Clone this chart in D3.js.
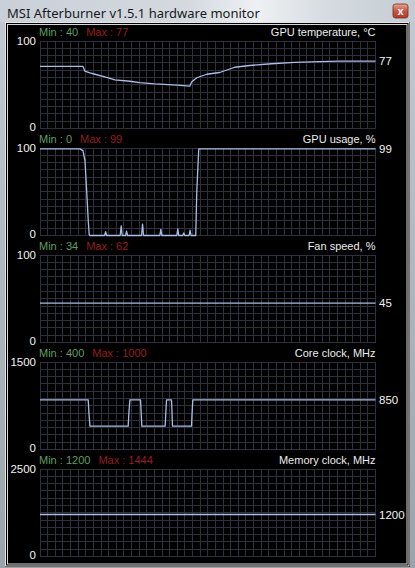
<!DOCTYPE html>
<html>
<head>
<meta charset="utf-8">
<script src="https://cdn.jsdelivr.net/npm/d3@7"></script>
<style>
  html, body { margin: 0; padding: 0; background: #bfc7cf; }
  svg { display: block; }
</style>
</head>
<body>
<div id="chart"></div>
<script>
/* MSI Afterburner hardware monitor - five stacked history graphs */

var windowTitle = 'MSI Afterburner v1.5.1 hardware monitor';
var panelNames = ['GPU temperature, \u00B0C', 'GPU usage, %', 'Fan speed, %', 'Core clock, MHz', 'Memory clock, MHz'];
var axisMax = [100, 100, 100, 1500, 2500];
var minValues = [40, 0, 34, 400, 1200];
var maxValues = [77, 99, 62, 1000, 1444];
var currentValues = [77, 99, 45, 850, 1200];

/* [sample, value] - one sample per pixel column of the graph */
var tempSeries = [
  [0, 71], [43, 71], [45, 65.5], [50, 63.5], [55, 62], [65, 59], [75, 55.5], [90, 54],
  [100, 52.5], [115, 51], [137, 49.5], [150, 48.5], [152, 53.5], [157, 58], [167, 62],
  [180, 64], [195, 70], [210, 72], [232, 74], [255, 75.5], [280, 76.5], [300, 77], [336, 77]
];
var usageSeries = [
  [0, 99], [40, 99], [43, 97], [45, 86], [46.7, 52], [48.3, 17], [49.3, 1], [50, 0],
  [64.7, 0], [65.7, 4.5], [66.7, 0],
  [80.3, 0], [81.3, 11], [82.3, 0],
  [85.7, 0], [86.7, 5], [87.7, 0],
  [101.7, 0], [102.7, 13], [103.7, 0],
  [120, 0], [121, 7], [122, 0],
  [137, 0], [138, 7.5], [139, 0],
  [143, 0], [144, 3], [145, 0],
  [149.3, 0], [150.3, 6], [151.3, 0],
  [156, 0], [157, 50], [159, 99], [336, 99]
];
var fanSeries = [[0, 45], [336, 45]];
var coreSeries = [
  [0, 850], [48.3, 850], [49, 630], [50, 400], [88.3, 400], [89, 620], [90, 850],
  [100.7, 850], [101.3, 630], [102, 400], [125.3, 400], [126, 620], [126.7, 850],
  [131.7, 850], [132.2, 630], [132.7, 400], [151.7, 400], [152.3, 620], [153, 850], [336, 850]
];
var memSeries = [[0, 1200], [336, 1200]];

(function () {
  'use strict';

  var W = 415, H = 568;
  var plotLeft = 40, plotRight = 375.5;
  var firstTop = 41, pitch = 107, plotH = 87.5;
  var series = [tempSeries, usageSeries, fanSeries, coreSeries, memSeries];
  var labelFont = '"Liberation Sans", Arial, sans-serif';

  var svg = d3.select('#chart').append('svg')
    .attr('width', W).attr('height', H);

  var defs = svg.append('defs');
  var frameGrad = defs.append('linearGradient').attr('id', 'frameGrad')
    .attr('x1', 0).attr('x2', 1).attr('y1', 0).attr('y2', 0);
  frameGrad.append('stop').attr('offset', '0%').attr('stop-color', '#c9d0d7');
  frameGrad.append('stop').attr('offset', '45%').attr('stop-color', '#d3d9df');
  frameGrad.append('stop').attr('offset', '62%').attr('stop-color', '#eef1f3');
  frameGrad.append('stop').attr('offset', '78%').attr('stop-color', '#d6dce1');
  frameGrad.append('stop').attr('offset', '100%').attr('stop-color', '#c4ccd3');

  var sideGrad = defs.append('linearGradient').attr('id', 'sideGrad')
    .attr('x1', 0).attr('x2', 0).attr('y1', 0).attr('y2', 1);
  sideGrad.append('stop').attr('offset', '0%').attr('stop-color', '#c3cad1');
  sideGrad.append('stop').attr('offset', '100%').attr('stop-color', '#9aa2aa');

  var closeGrad = defs.append('linearGradient').attr('id', 'closeGrad')
    .attr('x1', 0).attr('x2', 0).attr('y1', 0).attr('y2', 1);
  closeGrad.append('stop').attr('offset', '0%').attr('stop-color', '#e7a595');
  closeGrad.append('stop').attr('offset', '50%').attr('stop-color', '#c9543f');
  closeGrad.append('stop').attr('offset', '100%').attr('stop-color', '#b13a26');

  /* window frame */
  svg.append('rect').attr('width', W).attr('height', H).attr('fill', 'url(#sideGrad)');
  svg.append('rect').attr('width', W).attr('height', 22).attr('fill', 'url(#frameGrad)');

  svg.append('text')
    .attr('x', 7).attr('y', 18)
    .attr('font-family', '"Noto Sans", "Open Sans", sans-serif')
    .attr('font-size', 13)
    .attr('fill', '#1a1a1a')
    .text(windowTitle);

  var close = svg.append('g').attr('transform', 'translate(393,4)');
  close.append('rect').attr('width', 15).attr('height', 14).attr('rx', 2.5)
    .attr('fill', 'url(#closeGrad)').attr('stroke', '#7a2a20').attr('stroke-width', 0.8);
  close.append('text').attr('x', 7.5).attr('y', 11)
    .attr('text-anchor', 'middle')
    .attr('font-family', labelFont).attr('font-weight', 'bold').attr('font-size', 11)
    .attr('fill', '#fff').text('x');

  /* black client area with double white border */
  svg.append('rect').attr('x', 5).attr('y', 22).attr('width', 405).attr('height', 545).attr('fill', '#000');
  svg.append('rect').attr('x', 5.5).attr('y', 22.5).attr('width', 403.5).attr('height', 543.5)
    .attr('fill', 'none').attr('stroke', '#e4e4e4').attr('stroke-width', 1);
  svg.append('rect').attr('x', 7.5).attr('y', 24.5).attr('width', 399.5).attr('height', 539.5)
    .attr('fill', 'none').attr('stroke', '#d8d8d8').attr('stroke-width', 1);

  var xScale = d3.scaleLinear().domain([0, 336]).range([plotLeft, plotRight]);

  panelNames.forEach(function (name, i) {
    var top = firstTop + i * pitch;
    var yScale = d3.scaleLinear().domain([0, axisMax[i]]).range([top + plotH, top]);
    var g = svg.append('g');

    /* grid */
    var grid = g.append('g').attr('stroke', '#2d303d').attr('stroke-width', 1)
      .attr('shape-rendering', 'crispEdges');
    var nCols = 44, nRows = 12;
    d3.range(nCols + 1).forEach(function (c) {
      var x = plotLeft + c * (plotRight - plotLeft) / nCols;
      grid.append('line').attr('x1', x).attr('x2', x).attr('y1', top).attr('y2', top + plotH);
    });
    d3.range(nRows + 1).forEach(function (r) {
      var y = top + r * plotH / nRows;
      grid.append('line').attr('x1', plotLeft).attr('x2', plotRight).attr('y1', y).attr('y2', y);
    });

    /* header: min / max / name */
    var head = g.append('text')
      .attr('x', 39).attr('y', top - 5)
      .attr('font-family', labelFont).attr('font-size', 11);
    head.append('tspan').attr('fill', '#5f9f5f').text('Min : ' + minValues[i]);
    head.append('tspan').attr('dx', 8).attr('fill', '#9a1c1c').text('Max : ' + maxValues[i]);

    g.append('text')
      .attr('x', plotRight).attr('y', top - 5)
      .attr('text-anchor', 'end')
      .attr('font-family', labelFont).attr('font-size', 11)
      .attr('fill', '#ececec')
      .text(name);

    /* scale labels */
    g.append('text')
      .attr('x', 36).attr('y', yScale(axisMax[i]) + 4)
      .attr('text-anchor', 'end')
      .attr('font-family', labelFont).attr('font-size', 11.5)
      .attr('fill', '#f2f2f2')
      .text(axisMax[i]);
    g.append('text')
      .attr('x', 36).attr('y', yScale(0) + 2.5)
      .attr('text-anchor', 'end')
      .attr('font-family', labelFont).attr('font-size', 11.5)
      .attr('fill', '#f2f2f2')
      .text(0);

    /* history line */
    var line = d3.line()
      .x(function (d) { return xScale(d[0]); })
      .y(function (d) { return yScale(d[1]); });
    g.append('path')
      .datum(series[i])
      .attr('d', line)
      .attr('fill', 'none')
      .attr('stroke', '#aabde6')
      .attr('stroke-width', 1.3)
      .attr('stroke-linejoin', 'round');

    /* current value */
    g.append('text')
      .attr('x', 379).attr('y', yScale(currentValues[i]) + 4)
      .attr('font-family', labelFont).attr('font-size', 11.5)
      .attr('fill', '#f2f2f2')
      .text(currentValues[i]);
  });
})();
</script>
</body>
</html>
